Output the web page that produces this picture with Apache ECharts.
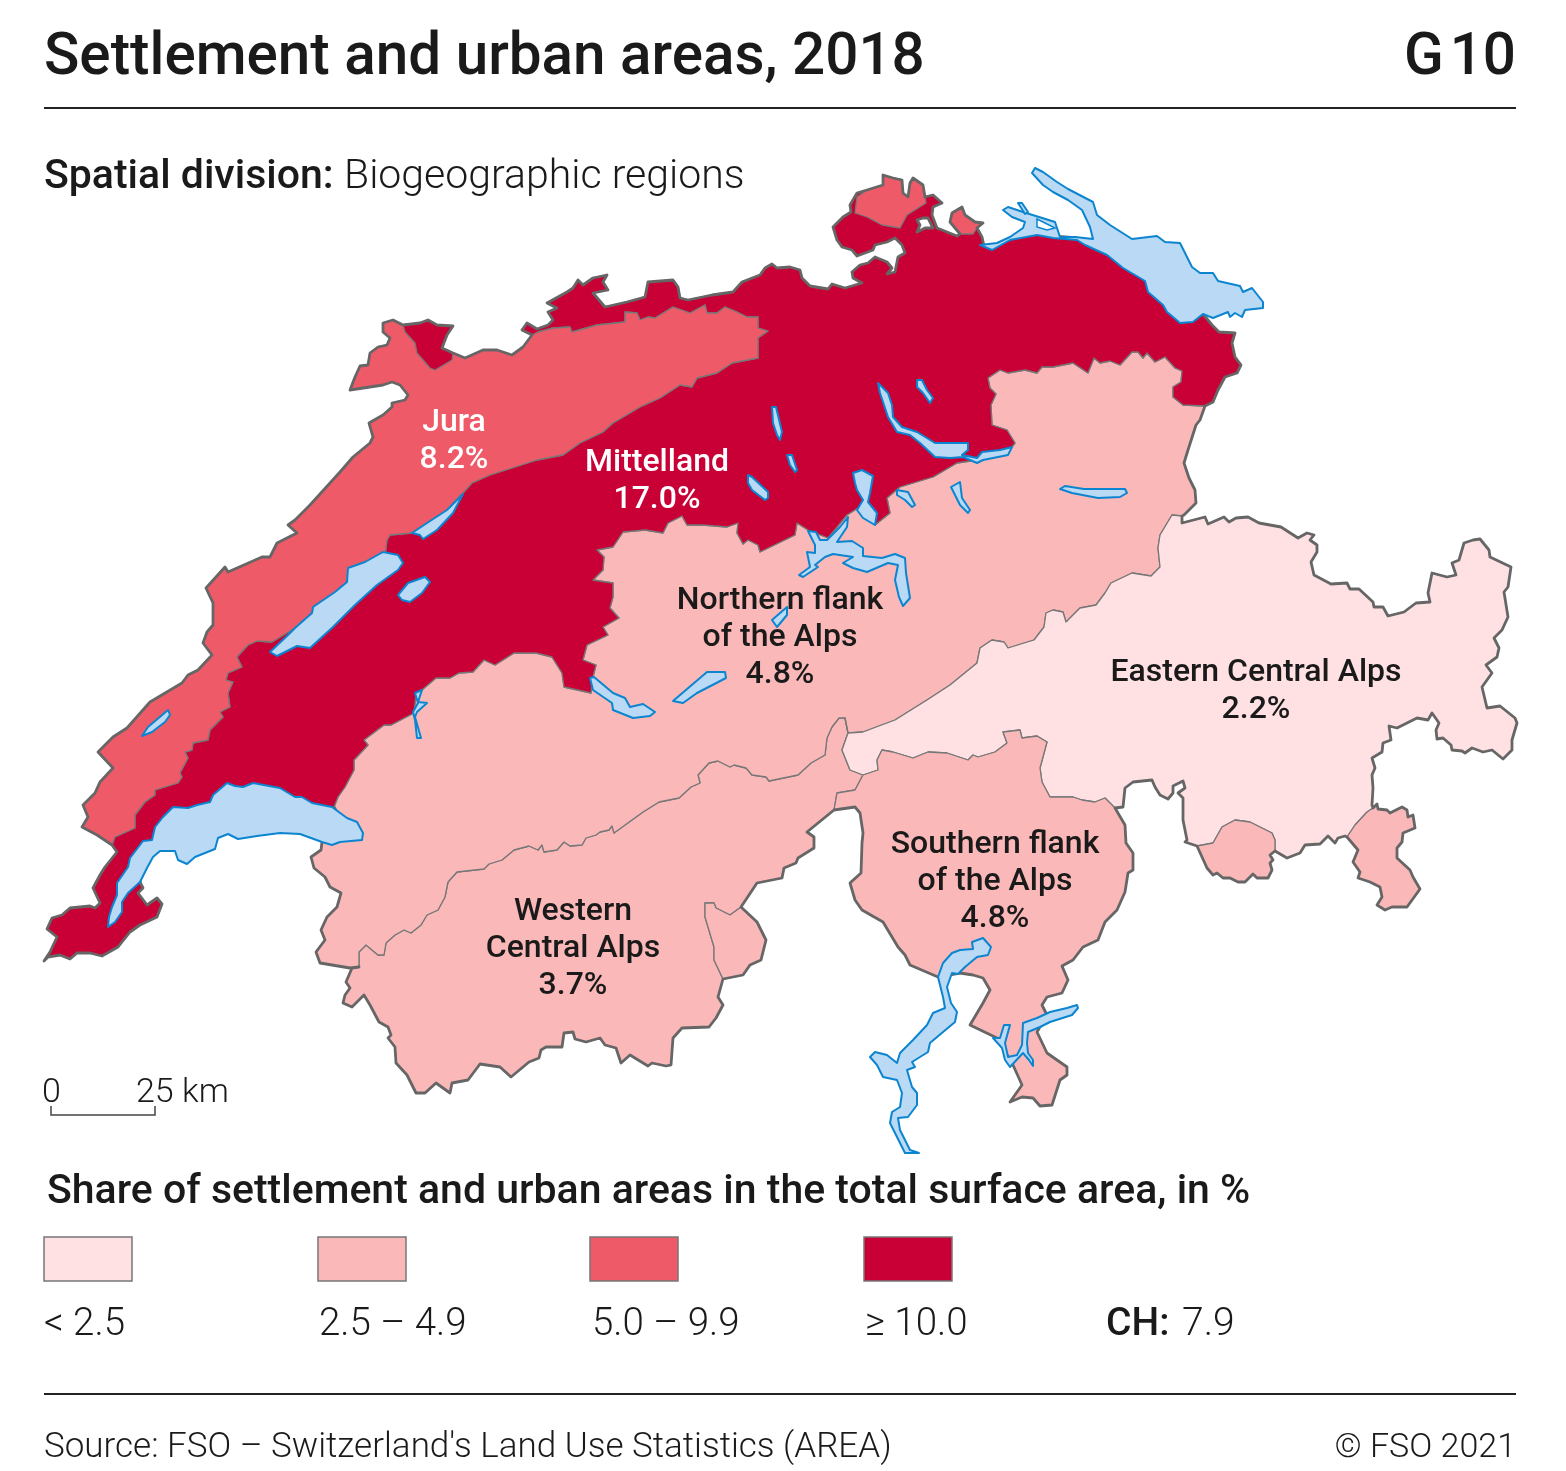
<!DOCTYPE html>
<html>
<head>
<meta charset="utf-8">
<title>Settlement and urban areas, 2018</title>
<script src="https://cdn.jsdelivr.net/npm/echarts@6/dist/echarts.min.js"></script>
<style>
  html, body { margin: 0; padding: 0; background: #fff; }
  #chart { width: 1566px; height: 1471px; }
</style>
</head>
<body>
<div id="chart"></div>
<script>
// values
const regionNames = ['Western Central Alps', 'Northern flank of the Alps', 'Mittelland', 'Eastern Central Alps', 'Southern flank of the Alps', 'Jura']
const regionShares = [3.7, 4.8, 17.0, 2.2, 4.8, 8.2]
const regionLabels = ['Western\nCentral Alps', 'Northern flank\nof the Alps', 'Mittelland', 'Eastern Central Alps', 'Southern flank\nof the Alps', 'Jura']
const classLimits = [2.5, 5, 10]
const classColors = ['#ffe1e3', '#fbb8b9', '#ee5a67', '#c90035']
const legendLabels = ['< 2.5', '2.5 – 4.9', '5.0 – 9.9', '≥ 10.0']
const nationalShare = '7.9'

// borders, in the map's own units, shared between neighbouring regions
const genevaSouth = [[140,882],[143,888],[138,893],[147,905],[157,898],[162,904],[157,917],[140,925],[130,932],[118,947],[102,956],[90,953],[77,953],[70,959],[60,955],[48,957],[44,961],[50,952],[57,937],[47,929],[52,918],[62,915],[70,908],[80,907],[90,906],[95,908],[100,903],[93,888],[100,875],[105,867],[117,852],[112,845]]
const juraWest = [[112,845],[97,835],[82,827],[88,817],[83,805],[95,793],[100,782],[113,768],[98,752],[113,737],[127,728],[150,702],[182,683],[188,675],[198,670],[212,655],[203,643],[207,632],[213,625],[213,603],[206,588],[225,567],[228,572],[262,557],[270,557],[277,543],[297,533],[288,525],[295,520],[310,505],[340,472],[353,457],[370,443],[373,437],[369,423],[383,415],[392,407],[392,403],[405,400],[408,395],[400,385],[392,382],[383,385],[350,390],[355,377],[360,366],[368,365],[370,353],[378,347],[387,345],[390,338],[383,332],[383,323],[393,320],[403,325],[420,323],[428,320],[437,325],[453,326],[447,335],[442,348],[453,353],[465,358],[483,350],[497,350],[512,355],[523,347],[532,335]]
const juraMittelland = [[112,845],[115,837],[135,828],[135,815],[145,802],[155,795],[155,790],[178,783],[182,777],[180,773],[188,758],[185,752],[192,750],[193,743],[208,740],[210,730],[223,717],[220,712],[230,707],[228,693],[233,682],[226,680],[228,673],[242,667],[237,657],[248,645],[257,641],[272,642],[300,625],[340,590],[385,556],[387,540],[390,535],[412,533],[435,522],[463,493],[472,483],[490,475],[512,468],[537,460],[563,455],[580,443],[603,432],[613,423],[640,407],[660,398],[680,385],[692,387],[697,378],[717,373],[732,363],[758,358],[758,338],[768,331],[758,328],[758,317],[747,317],[737,312],[725,307],[717,313],[707,313],[705,305],[690,313],[673,307],[655,318],[648,317],[640,320],[637,313],[625,312],[625,322],[597,325],[572,332],[570,327],[553,328],[538,332],[532,335]]
const northBorder = [[532,335],[522,330],[527,323],[537,329],[548,325],[553,320],[548,312],[557,308],[547,303],[567,292],[573,288],[578,280],[583,285],[593,278],[607,275],[603,282],[608,290],[593,293],[605,307],[627,302],[645,297],[648,282],[673,280],[678,287],[680,298],[688,300],[712,295],[733,292],[742,282],[760,275],[765,268],[772,264],[777,268],[790,267],[800,270],[802,278],[810,286],[828,289],[832,284],[845,288],[862,283],[853,278],[852,272],[860,265],[868,263],[875,257],[887,262],[892,268],[887,274],[895,272],[898,257],[905,253],[902,245],[895,238],[887,242],[875,245],[873,250],[865,253],[857,256],[852,250],[842,247],[837,240],[833,227],[843,217],[851,212],[850,205],[857,193],[867,190],[883,185],[883,175],[893,178],[902,180],[903,193],[908,197],[910,183],[913,178],[923,185],[925,197],[933,195],[942,203],[933,207],[932,215],[937,228],[957,236],[960,234],[950,222],[952,213],[962,207],[965,215],[975,222],[983,223],[977,228],[982,237],[984,246]]
const constanceShore = [[984,246],[993,249],[1010,238],[1037,233],[1053,236],[1077,238],[1087,244],[1109,254],[1125,266],[1147,279],[1150,291],[1165,303],[1169,310],[1181,321],[1193,320],[1203,314]]
const mittellandEast = [[1203,314],[1212,325],[1219,332],[1235,333],[1232,343],[1235,357],[1241,365],[1237,373],[1225,377],[1218,390],[1213,402],[1205,406]]
const northernFlankEast = [[1205,406],[1200,420],[1196,425],[1188,450],[1184,463],[1189,478],[1195,490],[1196,503],[1184,515],[1182,516]]
const mittellandNorthernFlank = [[1205,406],[1183,405],[1173,397],[1173,387],[1181,382],[1182,371],[1175,368],[1165,357],[1155,362],[1147,353],[1143,358],[1138,352],[1132,352],[1120,365],[1110,361],[1100,363],[1094,358],[1088,373],[1073,363],[1053,367],[1042,367],[1037,373],[1025,370],[1008,373],[1000,370],[988,378],[990,388],[996,394],[991,405],[992,425],[1007,430],[1015,443],[1012,447],[977,460],[957,463],[933,477],[923,480],[900,487],[887,498],[890,513],[875,525],[858,508],[847,515],[828,538],[808,530],[797,523],[795,535],[760,552],[758,545],[748,540],[743,544],[737,533],[738,523],[727,527],[703,525],[687,525],[682,516],[668,523],[663,533],[645,530],[623,532],[613,547],[597,550],[604,557],[603,570],[593,580],[613,583],[613,597],[610,608],[619,618],[603,627],[608,635],[587,645],[583,660],[596,665],[593,677],[591,693],[564,687],[562,673],[552,657],[536,653],[514,653],[495,665],[484,660],[473,672],[459,673],[450,678],[436,678],[416,695],[414,713],[391,725],[384,725],[364,740],[368,745],[354,760],[354,770],[345,787],[338,797],[334,807]]
const mittellandUnderLake = [[334,807],[300,815],[200,820],[165,835],[145,860],[140,882]]
const northernFlankUnderLake = [[334,807],[345,825],[322,842]]
const northernFlankSouth = [[322,842],[321,850],[311,857],[314,868],[325,877],[330,887],[341,893],[337,907],[327,917],[321,930],[325,940],[316,952],[320,963],[350,968],[359,967]]
const northernFlankWestern = [[359,967],[359,952],[366,945],[378,955],[384,955],[386,943],[395,935],[404,930],[411,933],[421,925],[427,915],[438,910],[445,897],[448,882],[457,872],[484,869],[489,864],[502,860],[514,850],[529,846],[538,850],[542,845],[544,852],[557,850],[564,842],[570,846],[582,845],[586,838],[596,835],[600,832],[609,830],[612,826],[614,833],[643,812],[659,802],[679,798],[691,787],[700,783],[698,775],[709,763],[718,761],[730,767],[734,765],[746,768],[752,775],[766,777],[769,781],[798,775],[811,763],[825,755],[827,738],[832,727],[839,718],[845,718]]
const northernFlankEastern = [[845,718],[848,733],[863,732],[895,720],[927,700],[950,685],[977,663],[980,648],[992,640],[1004,642],[1008,648],[1034,640],[1044,627],[1046,613],[1053,610],[1063,612],[1066,622],[1080,608],[1096,605],[1105,593],[1111,583],[1132,573],[1151,576],[1160,567],[1158,548],[1160,535],[1172,515],[1182,516]]
const easternNorth = [[1182,516],[1182,523],[1205,517],[1208,524],[1224,517],[1229,522],[1236,518],[1248,517],[1259,523],[1281,527],[1298,538],[1307,533],[1314,535],[1310,540],[1317,545],[1317,552],[1311,562],[1314,575],[1331,584],[1347,583],[1350,589],[1359,589],[1373,602],[1374,607],[1383,607],[1388,616],[1404,612],[1416,603],[1430,602],[1428,593],[1432,573],[1447,577],[1456,575],[1452,563],[1459,560],[1464,543],[1473,540],[1480,539],[1489,550],[1490,557],[1511,567],[1508,587],[1504,592],[1508,617],[1502,630],[1494,638],[1499,648],[1497,657],[1486,665],[1492,673],[1482,687],[1487,708],[1500,706],[1515,718],[1517,723],[1512,740],[1512,750],[1503,759],[1492,750],[1483,752],[1472,748],[1465,753],[1462,751],[1452,750],[1451,745],[1443,738],[1437,739],[1436,730],[1439,723],[1432,713],[1428,720],[1417,718],[1397,728],[1389,726],[1391,740],[1383,743],[1382,752],[1372,758],[1375,768],[1372,775],[1373,788],[1372,805],[1373,808]]
const poschiavoInner = [[1347,837],[1355,825],[1367,812],[1373,808]]
const poschiavoOuter = [[1373,808],[1377,804],[1378,809],[1387,810],[1390,813],[1402,807],[1407,810],[1408,817],[1413,815],[1415,828],[1403,833],[1402,842],[1397,848],[1397,858],[1410,870],[1413,877],[1420,889],[1407,907],[1392,907],[1385,910],[1377,905],[1382,897],[1380,887],[1370,882],[1358,878],[1360,872],[1353,862],[1358,850],[1347,837]]
const easternSouth = [[1347,837],[1345,836],[1338,838],[1335,843],[1328,836],[1320,844],[1305,845],[1300,853],[1287,858],[1275,851]]
const bregagliaInner = [[1197,846],[1213,843],[1222,827],[1235,820],[1250,822],[1272,833],[1275,840],[1275,851]]
const bregagliaOuter = [[1275,851],[1270,855],[1273,860],[1270,863],[1272,870],[1268,878],[1257,878],[1253,874],[1245,882],[1238,882],[1230,878],[1223,878],[1217,873],[1213,875],[1207,868],[1197,846]]
const easternWest = [[1197,846],[1185,842],[1187,840],[1183,820],[1183,798],[1178,793],[1185,788],[1183,781],[1173,786],[1173,793],[1168,799],[1160,795],[1155,787],[1152,780],[1133,782],[1125,788],[1123,807],[1115,808]]
const southernTop = [[863,775],[878,770],[877,760],[882,750],[893,752],[913,758],[928,752],[947,753],[968,760],[973,755],[978,757],[995,752],[1007,743],[1003,732],[1020,730],[1022,738],[1037,736],[1047,742],[1040,768],[1042,782],[1050,797],[1073,797],[1082,800],[1095,802],[1105,798],[1115,808]]
const easternWestern = [[863,775],[850,770],[842,750],[848,733],[845,718]]
const southernOuter = [[1115,808],[1125,825],[1126,843],[1133,853],[1133,870],[1128,873],[1125,892],[1117,910],[1105,922],[1098,940],[1083,947],[1073,960],[1062,966],[1068,980],[1062,993],[1047,997],[1042,1005],[1047,1015],[1037,1032],[1047,1053],[1067,1067],[1067,1075],[1060,1080],[1052,1105],[1040,1106],[1033,1098],[1022,1097],[1010,1102],[1022,1085],[1013,1065],[997,1038],[970,1025],[983,1003],[990,990],[983,978],[973,975],[960,973],[938,977],[910,965],[905,955],[898,947],[883,922],[862,910],[855,900],[850,883],[861,873],[862,843],[863,833],[860,813],[855,807],[834,810]]
const southernWestern = [[863,775],[855,790],[837,793],[834,810]]
const westernNorth = [[834,810],[807,832],[814,837],[814,848],[798,858],[796,863],[784,868],[782,878],[757,883],[741,907]]
const lobeInner = [[741,907],[730,915],[716,908],[714,903],[705,903],[705,917],[714,947],[714,960],[723,979]]
const lobeOuter = [[741,907],[757,922],[766,940],[761,960],[750,965],[743,975],[723,979]]
const westernSouth = [[723,979],[718,997],[723,1005],[716,1018],[709,1027],[682,1028],[673,1038],[671,1065],[666,1066],[652,1063],[648,1066],[630,1055],[621,1063],[616,1048],[605,1045],[600,1038],[586,1042],[575,1039],[573,1032],[564,1033],[562,1047],[546,1047],[541,1050],[539,1058],[529,1062],[511,1077],[500,1067],[480,1064],[468,1080],[452,1083],[450,1093],[436,1083],[425,1093],[416,1093],[407,1075],[396,1063],[395,1047],[388,1038],[391,1035],[388,1027],[379,1022],[370,1005],[364,995],[352,1007],[343,1003],[345,995],[350,988],[346,982],[352,968],[359,967]]

// small patches lying on top of a neighbour
const ajoie = [[403,325],[420,323],[428,320],[437,325],[453,326],[447,335],[442,348],[453,353],[452,360],[435,370],[430,368],[417,353],[415,343],[405,332]]
const schaffhausen = [[855,213],[857,197],[867,190],[883,185],[883,175],[893,178],[902,180],[903,193],[908,197],[910,183],[913,178],[923,185],[926,203],[907,215],[900,228],[882,225],[867,217]]
const stein = [[960,234],[950,222],[952,213],[962,207],[965,215],[975,222],[982,223],[977,228],[973,234]]
const busingen = [[917,220],[923,218],[928,218],[933,228],[925,228],[917,232],[920,225]]

// lakes
const lakeGeneva = [[108,927],[115,922],[122,912],[122,902],[128,893],[140,882],[147,868],[153,857],[160,851],[175,851],[178,860],[187,864],[195,857],[215,849],[218,838],[228,834],[238,839],[257,836],[280,833],[300,834],[322,842],[332,845],[340,842],[362,840],[363,833],[357,822],[347,818],[332,807],[312,803],[302,797],[295,797],[280,788],[253,783],[243,787],[235,786],[227,783],[213,795],[210,802],[197,805],[188,808],[173,807],[163,817],[155,827],[152,840],[143,841],[130,858],[128,867],[117,883],[117,895],[112,907],[109,917]]
const lakeNeuchatel = [[270,652],[288,635],[295,628],[312,613],[313,607],[335,592],[347,582],[348,568],[365,562],[383,552],[398,555],[403,563],[398,570],[377,585],[355,605],[333,627],[310,648],[297,646],[277,656]]
const lakeMurten = [[398,595],[408,583],[425,577],[430,582],[422,593],[410,602],[402,600]]
const lakeJoux = [[142,736],[148,727],[168,710],[170,715],[165,722],[152,732]]
const lakeBiel = [[412,533],[427,523],[447,510],[463,494],[453,513],[437,530],[423,539],[420,535]]
const lakeHallwil = [[772,407],[776,407],[782,432],[780,440],[777,435],[773,423]]
const lakeBaldegg = [[787,455],[792,455],[797,470],[795,472],[790,465]]
const lakeSempach = [[748,475],[752,477],[768,492],[768,498],[765,500],[752,490],[748,483]]
const lakeZurich = [[878,383],[888,393],[892,405],[893,417],[902,427],[917,432],[935,443],[960,443],[968,443],[968,450],[962,455],[977,458],[982,452],[1000,450],[1012,447],[1008,455],[983,460],[977,463],[963,457],[950,458],[935,457],[920,443],[910,435],[897,432],[888,417],[880,393]]
const lakeGreifen = [[917,380],[922,380],[927,390],[933,398],[930,403],[923,393],[917,387]]
const lakeZug = [[853,473],[862,470],[873,476],[870,493],[868,502],[877,513],[875,525],[863,518],[857,510],[863,500],[857,490],[855,483]]
const lakeAegeri = [[897,490],[908,492],[915,505],[912,507],[905,500],[897,495]]
const lakeLauerz = [[951,487],[960,482],[962,498],[970,510],[968,513],[960,505],[955,495]]
const lakeLucerne = [[808,531],[816,532],[820,540],[827,540],[840,527],[848,517],[847,527],[837,542],[852,541],[863,548],[863,556],[882,558],[895,554],[905,558],[906,573],[910,598],[903,606],[899,597],[895,580],[898,565],[888,563],[867,572],[853,568],[843,563],[853,557],[833,554],[825,557],[815,565],[818,567],[803,577],[799,575],[810,567],[807,552],[815,553],[815,545]]
const lakeSarnen = [[772,620],[787,607],[787,615],[777,627]]
const lakeBrienz = [[673,701],[707,672],[725,672],[726,678],[697,693],[683,703]]
const lakeThun = [[590,678],[594,677],[613,693],[625,698],[630,707],[643,704],[655,712],[650,716],[633,718],[613,710],[612,703],[593,690]]
const lakeGruyere = [[415,693],[422,690],[418,702],[427,703],[417,712],[415,717],[421,738],[417,738],[415,720],[413,712],[418,703]]
const lakeWalen = [[1060,489],[1065,486],[1084,489],[1125,489],[1127,493],[1120,497],[1098,498],[1072,493]]
const lakeConstance = [[980,245],[997,243],[1010,237],[1023,228],[1025,222],[1012,217],[1003,210],[1008,207],[1023,212],[1055,222],[1057,228],[1060,237],[1075,237],[1093,239],[1090,227],[1082,210],[1068,200],[1053,192],[1043,185],[1032,173],[1035,168],[1043,172],[1057,182],[1068,189],[1093,202],[1097,215],[1110,225],[1132,239],[1157,236],[1165,242],[1180,243],[1192,267],[1200,273],[1213,273],[1218,281],[1240,286],[1243,292],[1252,288],[1263,302],[1263,308],[1245,310],[1242,317],[1235,313],[1230,317],[1228,312],[1213,318],[1203,314],[1193,322],[1180,323],[1167,312],[1163,305],[1148,292],[1145,281],[1123,268],[1107,255],[1085,245],[1077,240],[1053,238],[1037,235],[1010,240],[992,250]]
const lakeRadolfzell = [[1018,203],[1022,203],[1028,212],[1025,214]]
const lakeMaggiore = [[870,1057],[875,1052],[887,1055],[897,1063],[900,1053],[913,1040],[927,1025],[933,1013],[945,1008],[943,997],[938,977],[943,963],[952,953],[960,950],[973,949],[972,942],[983,938],[991,947],[988,955],[977,957],[965,967],[958,974],[952,973],[947,987],[951,1003],[957,1012],[955,1022],[943,1032],[930,1043],[928,1052],[912,1062],[915,1067],[907,1070],[912,1087],[917,1093],[917,1105],[908,1117],[898,1118],[900,1130],[910,1150],[919,1153],[905,1153],[900,1143],[890,1123],[892,1112],[900,1107],[902,1093],[897,1080],[883,1077],[877,1065]]
const lakeLugano = [[1077,1005],[1078,1008],[1072,1015],[1050,1022],[1040,1027],[1028,1032],[1027,1043],[1028,1053],[1033,1060],[1033,1066],[1029,1060],[1023,1053],[1010,1067],[1005,1060],[1002,1048],[993,1038],[1000,1038],[1004,1025],[1010,1025],[1005,1043],[1008,1057],[1017,1055],[1022,1045],[1023,1023],[1037,1018],[1050,1012],[1067,1008]]
const reichenau = [[1037,219],[1055,228],[1047,230],[1037,227]]

const lakes = { lakeGeneva, lakeNeuchatel, lakeMurten, lakeJoux, lakeBiel, lakeHallwil, lakeBaldegg, lakeSempach, lakeZurich, lakeGreifen, lakeZug, lakeAegeri, lakeLauerz, lakeLucerne, lakeSarnen, lakeBrienz, lakeThun, lakeGruyere, lakeWalen, lakeConstance, lakeRadolfzell, lakeMaggiore, lakeLugano }

const back = line => line.slice().reverse()
const ring = (...lines) => lines.flat()

function feature(name, points, cp) {
  const closed = points.concat([points[0]])
  return {
    type: 'Feature',
    properties: cp ? { name, cp } : { name },
    geometry: { type: 'Polygon', coordinates: [closed] },
  }
}

const regionRings = [
  ring(northernFlankWestern, back(easternWestern), southernWestern, westernNorth, lobeInner, westernSouth),
  ring(mittellandNorthernFlank, northernFlankUnderLake, northernFlankSouth, northernFlankWestern, northernFlankEastern, back(northernFlankEast)),
  ring(genevaSouth, juraMittelland, northBorder, constanceShore, mittellandEast, mittellandNorthernFlank, mittellandUnderLake),
  ring(northernFlankEastern, easternNorth, back(poschiavoInner), easternSouth, back(bregagliaInner), easternWest, back(southernTop), easternWestern),
  ring(southernTop, southernOuter, back(southernWestern)),
  ring(juraWest, back(juraMittelland)),
]
const labelCentres = [[573,949], [780,638], [657,481], [1256,691], [995,882], [454,441]]

const patches = [
  ['Ajoie', ajoie, 2],
  ['Schaffhausen', schaffhausen, 5],
  ['Stein', stein, 5],
  ['Bregaglia', ring(bregagliaInner, bregagliaOuter), 4],
  ['Poschiavo', ring(poschiavoInner, poschiavoOuter), 4],
  ['Zwischbergen', ring(lobeInner, back(lobeOuter)), 4],
]

const countryOutline = ring(genevaSouth, juraWest, northBorder, constanceShore, mittellandEast, northernFlankEast, easternNorth, poschiavoOuter, easternSouth, bregagliaOuter, easternWest, southernOuter, westernNorth, lobeOuter, westernSouth, back(northernFlankSouth.slice(0, -1)), back(northernFlankUnderLake), mittellandUnderLake)

const features = []
regionNames.forEach((name, i) => features.push(feature(name, regionRings[i], labelCentres[i])))
patches.forEach(([name, points]) => features.push(feature(name, points)))
features.push(feature('Outline', countryOutline))
features.push(feature('Busingen', busingen))
Object.keys(lakes).forEach(name => features.push(feature(name, lakes[name])))
features.push(feature('Reichenau', reichenau))

echarts.registerMap('switzerland', { type: 'FeatureCollection', features })

// bounding box, so that map units stay equal to page pixels
const allPoints = features.flatMap(f => f.geometry.coordinates[0])
const minX = Math.min(...allPoints.map(p => p[0]))
const maxX = Math.max(...allPoints.map(p => p[0]))
const minY = Math.min(...allPoints.map(p => p[1]))
const maxY = Math.max(...allPoints.map(p => p[1]))

function classColor(value) {
  const idx = classLimits.findIndex(limit => value < limit)
  return classColors[idx < 0 ? classColors.length - 1 : idx]
}

const thinBorder = { borderColor: '#777777', borderWidth: 1.3, borderJoin: 'round' }
const thickBorder = { borderColor: '#666666', borderWidth: 2.8, borderJoin: 'round' }
const lakeStyle = { areaColor: '#b9d9f4', borderColor: '#0b85d0', borderWidth: 2, borderJoin: 'round' }

const mapData = []
regionNames.forEach((name, i) => {
  const share = regionShares[i]
  const dark = share >= 5
  mapData.push({
    name,
    value: share,
    itemStyle: { areaColor: classColor(share), ...thinBorder },
    label: {
      show: true,
      formatter: `${regionLabels[i]}\n${share.toFixed(1)}%`,
      color: dark ? '#ffffff' : '#1a1a1a',
      fontFamily: 'Roboto',
      fontWeight: 500,
      fontSize: 32,
      lineHeight: 37,
      align: 'center',
    },
  })
})
patches.forEach(([name, , owner]) => {
  mapData.push({ name, value: regionShares[owner], itemStyle: { areaColor: classColor(regionShares[owner]), ...thinBorder } })
})
mapData.push({ name: 'Outline', itemStyle: { areaColor: 'rgba(0,0,0,0)', ...thickBorder } })
mapData.push({ name: 'Busingen', itemStyle: { areaColor: '#ffffff', ...thickBorder } })
Object.keys(lakes).forEach(name => mapData.push({ name, itemStyle: lakeStyle }))
mapData.push({ name: 'Reichenau', itemStyle: { areaColor: '#ffffff', borderColor: '#0b85d0', borderWidth: 1.5 } })

function text(x, y, str, fontSize, fontWeight, extra) {
  return {
    type: 'text',
    x,
    y,
    z: 10,
    silent: true,
    style: { text: str, fontFamily: 'Roboto', fontSize, fontWeight, fill: '#1a1a1a', textVerticalAlign: 'middle', ...extra },
  }
}

function rule(y) {
  return { type: 'line', silent: true, shape: { x1: 44, y1: y, x2: 1516, y2: y }, style: { stroke: '#222222', lineWidth: 2 } }
}

const legendX = [44, 318, 590, 864]
const legendTextX = [44, 319, 592, 865]
const graphics = [
  text(44, 59, 'Settlement and urban areas, 2018', 58.4, 500),
  text(1516, 59, 'G\u200a10', 58.4, 500, { textAlign: 'right' }),
  rule(108),
  text(44, 178, 'Spatial division:', 41, 500),
  text(344, 178, 'Biogeographic regions', 41, 300),
  { type: 'polyline', silent: true, shape: { points: [[51, 1106], [51, 1115], [155, 1115], [155, 1106]] }, style: { stroke: '#444444', lineWidth: 1.5, fill: null } },
  text(42, 1093, '0', 34, 300),
  text(136, 1093, '25 km', 34, 300),
  text(47, 1193, 'Share of settlement and urban areas in the total surface area, in %', 41, 500),
  text(1106, 1325, 'CH:', 39, 500),
  text(1182, 1325, nationalShare, 39, 300),
  rule(1394),
  text(44, 1448, "Source: FSO – Switzerland's Land Use Statistics (AREA)", 35, 300),
  text(1516, 1448, '© FSO 2021', 34, 300, { textAlign: 'right' }),
]
legendLabels.forEach((label, i) => {
  graphics.push({
    type: 'rect',
    silent: true,
    shape: { x: legendX[i], y: 1237, width: 88, height: 44 },
    style: { fill: classColors[i], stroke: '#777777', lineWidth: 1.5 },
  })
  graphics.push(text(legendTextX[i], 1325, label, 38.5, 300))
})

const chart = echarts.init(document.getElementById('chart'), null, { renderer: 'canvas' })
chart.setOption({
  backgroundColor: '#ffffff',
  animation: false,
  tooltip: { show: false },
  graphic: { elements: graphics },
  series: [{
    type: 'map',
    map: 'switzerland',
    projection: { project: p => p, unproject: p => p },
    left: minX,
    top: minY,
    width: maxX - minX,
    height: maxY - minY,
    roam: false,
    silent: true,
    selectedMode: false,
    emphasis: { disabled: true },
    select: { disabled: true },
    label: { show: false },
    itemStyle: { areaColor: 'rgba(0,0,0,0)', borderWidth: 0 },
    data: mapData,
  }],
})
</script>
</body>
</html>
